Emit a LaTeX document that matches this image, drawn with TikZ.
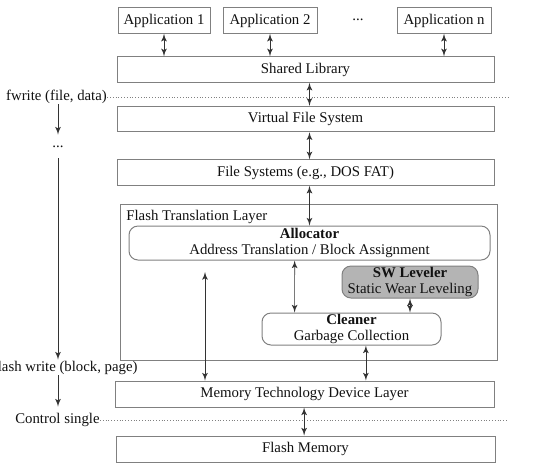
\documentclass[tikz,border=0pt]{standalone}
\usepackage{fontspec}
\setmainfont{Liberation Serif}
\usetikzlibrary{shapes,arrows,calc}
\definecolor{boxline}{HTML}{808080}
\definecolor{inktext}{HTML}{111111}
\definecolor{swfill}{HTML}{B4B4B4}
\newcommand{\twoline}[2]{\textbf{#1}\\#2}
\tikzstyle{ptr}   = [draw, color=black!80, line width=0.35pt, latex'-latex']
\tikzstyle{flow}  = [draw, color=black!80, line width=0.35pt, -latex']
\tikzstyle{layer} = [rectangle, draw=boxline, line width=0.5pt, text=inktext, minimum height=12.75pt, inner sep=0pt]
\tikzstyle{app}   = [layer, minimum width=47pt]
\tikzstyle{unit}  = [rectangle, rounded corners=4.5pt, draw=boxline, line width=0.5pt, text=inktext, align=center, inner sep=0pt, font=\fontsize{7.4}{8.2}\selectfont]
\tikzstyle{side}  = [text=inktext, inner sep=0pt]
\tikzstyle{sep}   = [draw=boxline, line width=0.4pt, densely dotted]

\begin{document}
\begin{tikzpicture}[x=0.5pt, y=-0.5pt, font=\fontsize{7.4}{8.6}\selectfont]

    \useasboundingbox (0,0) rectangle (536,463);

    % applications
    \node[app, minimum width=46pt] (app1) at (164,20.5) {Application 1};
    \node[app]                     (app2) at (270,20.5) {Application 2};
    \node[side]                    (more) at (358,20)   {...};
    \node[app]                     (appn) at (444,20.5) {Application n};

    % layer stack
    \node[layer, minimum width=188.5pt] (lib)   at (305.5,69.5) {Shared Library};
    \node[layer, minimum width=188.5pt] (vfs)   at (305.5,119)  {Virtual File System};
    \node[layer, minimum width=188.5pt] (fs)    at (305.5,172.5){File Systems (e.g., DOS FAT)};
    \node[layer, minimum width=189.5pt, minimum height=13pt] (mtd)   at (304.5,394) {Memory Technology Device Layer};
    \node[layer, minimum width=189.5pt, minimum height=13pt] (flash) at (305.5,449) {Flash Memory};

    % flash translation layer
    \node[rectangle, draw=boxline, line width=0.5pt, minimum width=188.5pt, minimum height=78pt, inner sep=0pt] (ftl) at (308.5,282) {};
    \node[side, anchor=west] (ftlname) at (126,217) {Flash Translation Layer};
    \node[unit, minimum width=180.5pt, minimum height=17pt] (alloc)   at (309.5,243)   {\twoline{Allocator}{Address Translation / Block Assignment}};
    \node[unit, minimum width=68pt, minimum height=16pt, fill=swfill] (swl) at (410,282) {\twoline{SW Leveler}{Static Wear Leveling}};
    \node[unit, minimum width=89.5pt, minimum height=16pt] (cleaner) at (351.5,329) {\twoline{Cleaner}{Garbage Collection}};
    \coordinate (mapfree) at (205,272);
    \coordinate (allocout) at ($(alloc.south west)!0.459!(alloc.south east)$);
    \coordinate (cleanin)  at ($(cleaner.north west)!0.184!(cleaner.north east)$);
    \coordinate (cleanout) at ($(cleaner.south west)!0.58!(cleaner.south east)$);
    \coordinate (mtdout)   at ($(mtd.south west)!0.499!(mtd.south east)$);

    % call path on the left
    \node[side, minimum height=7pt]   (fwrite)  at (56.5,97) {fwrite (file, data)};
    \node[side, minimum height=11.5pt](dots)    at (58,146.5) {...};
    \node[side, minimum height=7.5pt, anchor=east] (fwblock) at (138,367.5) {Flash write (block, page)};
    \node[side, minimum height=13pt, anchor=east]  (ctrl)    at (100,420)   {Control single};
    \coordinate (fwriteend) at (508,97);
    \coordinate (ctrlend)   at (508,420);

    \draw[sep] (fwrite.east) -- (fwriteend);
    \draw[sep] (ctrl.east)   -- (ctrlend);

    \draw[flow] (fwrite.south -| dots) -- (dots.north);
    \draw[flow] (dots.south)           -- (dots |- fwblock.north);
    \draw[flow] (dots |- fwblock.south) -- (dots |- ctrl.north);

    % connectors
    \path[ptr] (app1.south) -- (app1.south |- lib.north);
    \path[ptr] (app2.south) -- (app2.south |- lib.north);
    \path[ptr] (appn.south) -- (appn.south |- lib.north);
    \path[ptr] (lib.south -| alloc) -- (vfs.north -| alloc);
    \path[ptr] (vfs.south -| alloc) -- (fs.north -| alloc);
    \path[ptr] (fs.south -| alloc)  -- (alloc.north);
    \path[ptr] (allocout) -- (cleanin);
    \path[ptr] (swl.south) -- (swl.south |- cleaner.north);
    \path[ptr] (mapfree) -- (mapfree |- mtd.north);
    \path[ptr] (cleanout) -- (cleanout |- mtd.north);
    \path[ptr] (mtdout) -- (mtdout |- flash.north);

\end{tikzpicture}
\end{document}
